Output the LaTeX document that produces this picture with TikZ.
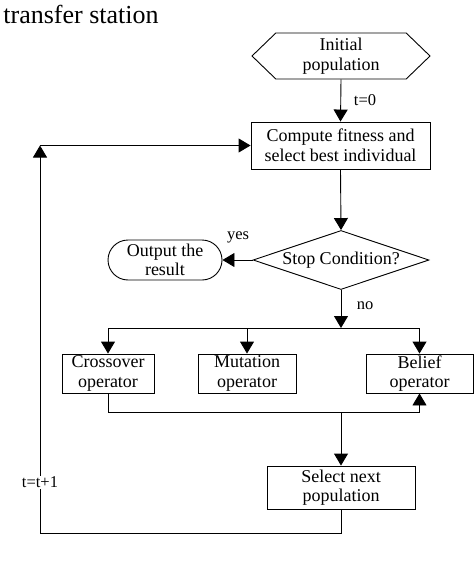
\documentclass[tikz,border=0pt]{standalone}
\usepackage{fontspec}
\setmainfont{Liberation Serif}
\usetikzlibrary{arrows.meta,shapes.geometric,shapes.misc,shapes.symbols}

\begin{document}
\begin{tikzpicture}[x=1pt, y=-1pt, >={Triangle[length=12pt,width=14pt]}, line width=0.9pt,
	box/.style={draw, rectangle, align=center, inner sep=0pt, font=\fontsize{18}{19.5}\selectfont},
	lbl/.style={inner sep=1pt, font=\fontsize{16.5}{18}\selectfont}]

\useasboundingbox (0, 0) rectangle (474, 567);

% Title line
\node[anchor=base west, inner sep=0pt, font=\fontsize{26}{28}\selectfont] (title) at (3, 24) {transfer station};

% Start and fitness
\node[box, signal, signal to=west and east, signal pointer angle=88, minimum width=178pt, minimum height=46pt] (init) at (341, 56) {Initial\\population};
\node[box, minimum width=179pt, minimum height=47pt] (fit) at (340.5, 145.5) {Compute fitness and\\select best individual};

\draw[->] (init.south) -- (fit.north);
\node[lbl] (t0) at (365, 100) {t=0};

% Stop test
\node[box, diamond, aspect=3, minimum width=176pt, minimum height=59pt] (stop) at (341, 260) {\makebox[0pt]{Stop Condition?}};
\node[box, rounded rectangle, minimum width=114pt, minimum height=40pt] (out) at (165, 260) {Output the\\result};

\draw[->] (fit.south) -- (stop.north);
\draw[->] (stop.west) -- (out.east);
\node[lbl] (yes) at (238, 237) {yes};

% Operators
\coordinate (split) at (341, 328);
\node[box, minimum width=92pt, minimum height=39pt] (cross) at (108, 373.5) {Crossover\\operator};
\node[box, minimum width=98pt, minimum height=39pt] (mut) at (247, 373.5) {Mutation\\operator};
\node[box, minimum width=107pt, minimum height=39pt] (bel) at (419.5, 373.5) {Belief\\operator};

\draw[->] (stop.south) -- (split);
\node[lbl] (no) at (365, 306) {no};
\draw[->] (split) -| (cross.north);
\draw[->] (split) -| (bel.north);
\draw[->] (mut.north |- split) -- (mut.north);

% Next population
\coordinate (merge) at (341, 412);
\node[box, minimum width=148pt, minimum height=43pt] (next) at (341, 487.5) {Select next\\population};

\draw (cross.south) |- (merge);
\draw[->] (merge) -| (bel.south);
\draw[->] (merge) -- (next.north);

% Loop back
\coordinate (back) at (40, 533);
\coordinate (corner) at (40, 145.5);
\draw[->] (next.south) |- (back) -- node[lbl, fill=white, pos=0.13] (tt) {t=t+1} (corner);
\draw[->] (corner) -- (fit.west);

\end{tikzpicture}
\end{document}
